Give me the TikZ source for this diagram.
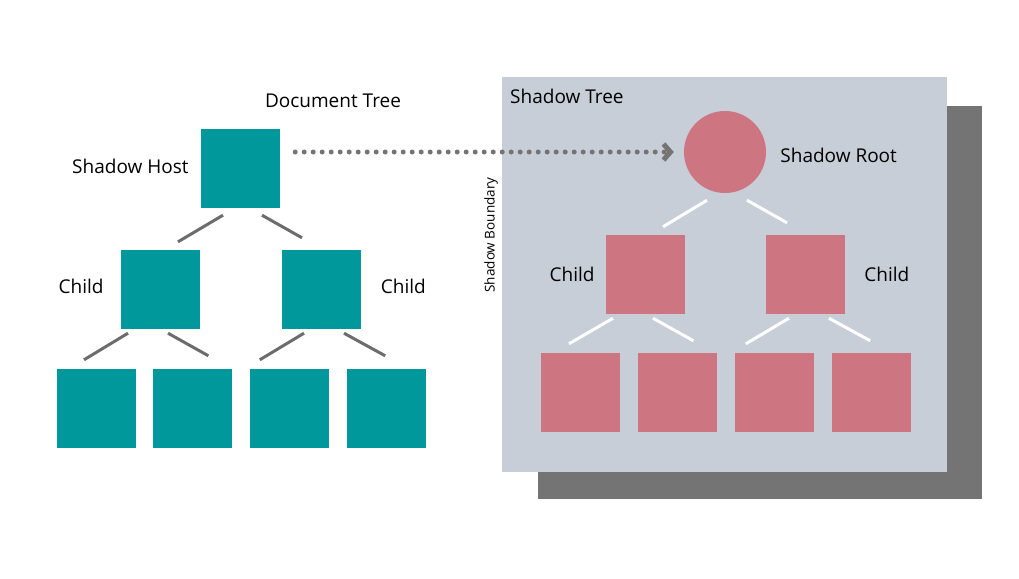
\documentclass[tikz,border=0pt]{standalone}
\usepackage{fontspec}
\setmainfont{Open Sans}
\usepackage{tikz}
\usetikzlibrary{positioning,calc,arrows.meta}
\definecolor{domteal}{RGB}{0,152,155}
\definecolor{rose}{RGB}{205,117,128}
\definecolor{mist}{RGB}{199,206,215}
\definecolor{ash}{RGB}{116,116,116}
\definecolor{edgegray}{RGB}{108,108,108}
\tikzstyle{dom} = [rectangle, fill=domteal, minimum size=79pt, inner sep=0pt]
\tikzstyle{sdom} = [rectangle, fill=rose, minimum size=79pt, inner sep=0pt]
\tikzstyle{sroot} = [circle, fill=rose, minimum size=82pt, inner sep=0pt]
\tikzstyle{txt} = [font=\fontsize{19}{22}\selectfont, inner sep=0pt, text=black]
\tikzstyle{tedge} = [draw=edgegray, line width=3pt]
\tikzstyle{sedge} = [draw=white, line width=3pt]
\tikzstyle{portal} = [draw=ash, line width=5pt, line cap=round, dash pattern=on 0pt off 9pt, -{Straight Barb[length=7pt,width=16pt,line width=5pt]}]

\begin{document}
\begin{tikzpicture}[x=1pt,y=-1pt]
\useasboundingbox (0,0) rectangle (1019,578);

% shadow tree backdrop ===================
\fill[ash] (538,106) rectangle (982,499);
\fill[mist] (502,77) rectangle (947,472);

% document tree ==========================

% host
\node[dom] (host) at (240.5,168.5) {};

% children
\node[dom] (c1) at (160.5,289.5) {};
\node[dom] (c2) at (321,289.5) {};

% leaves
\node[dom] (l1) at (96,408) {};
\node[dom, right=17.5pt of l1] (l2) {};
\node[dom, right=17.5pt of l2] (l3) {};
\node[dom, right=17.5pt of l3] (l4) {};

% labels
\node[txt] (doctitle) at (333,101) {Document Tree};
\node[txt, left=12pt of host, yshift=2pt] (hostlbl) {Shadow Host};
\node[txt, left=17pt of c1, yshift=3pt] (c1lbl) {Child};
\node[txt, right=20pt of c2, yshift=3pt] (c2lbl) {Child};

% shadow tree ============================

% root
\node[sroot] (root) at (725,152) {};

% children
\node[sdom] (s1) at (645.5,274.5) {};
\node[sdom] (s2) at (805.5,274.5) {};

% leaves
\node[sdom] (p1) at (580.5,392) {};
\node[sdom, right=17.5pt of p1] (p2) {};
\node[sdom, right=17.5pt of p2] (p3) {};
\node[sdom, right=17.5pt of p3] (p4) {};

% labels
\node[txt, anchor=west] (shtitle) at (510,96) {Shadow Tree};
\node[txt, right=14pt of root, yshift=-3pt] (rootlbl) {Shadow Root};
\node[txt, left=11pt of s1] (s1lbl) {Child};
\node[txt, right=19pt of s2] (s2lbl) {Child};
\node[font=\fontsize{13.5}{16}\selectfont, inner sep=0pt, rotate=90] (boundary) at (491,235) {Shadow Boundary};

% edges document tree
\path[tedge] ($(host.south)+(-17.5,7)$) -- ($(c1.north)+(17.5,-8)$);
\path[tedge] ($(host.south)+(21.5,7)$) -- ($(c2.north)+(-19,-12)$);

\path[tedge] ($(c1.south)+(-32.5,4)$) -- ($(l1.north)+(-12,-8.5)$);
\path[tedge] ($(c1.south)+(7.5,4)$) -- ($(l2.north)+(15.5,-12.5)$);

\path[tedge] ($(c2.south)+(-17,4)$) -- ($(l3.north)+(-30,-8.5)$);
\path[tedge] ($(c2.south)+(23,4)$) -- ($(l4.north)+(-1.5,-12.5)$);

% edges shadow tree
\path[sedge] ($(root.south)+(-18,7)$) -- ($(s1.north)+(17.5,-8)$);
\path[sedge] ($(root.south)+(22,7)$) -- ($(s2.north)+(-18.5,-12)$);

\path[sedge] ($(s1.south)+(-32.5,4)$) -- ($(p1.north)+(-11.5,-8.5)$);
\path[sedge] ($(s1.south)+(7.5,4)$) -- ($(p2.north)+(16,-11.5)$);

\path[sedge] ($(s2.south)+(-16.5,4)$) -- ($(p3.north)+(-28.5,-8.5)$);
\path[sedge] ($(s2.south)+(23.5,4)$) -- ($(p4.north)+(-1,-11.5)$);

% host to root
\draw[portal, shorten <=15pt, shorten >=10pt] (host.east |- root.west) -- (root.west);

\end{tikzpicture}
\end{document}
